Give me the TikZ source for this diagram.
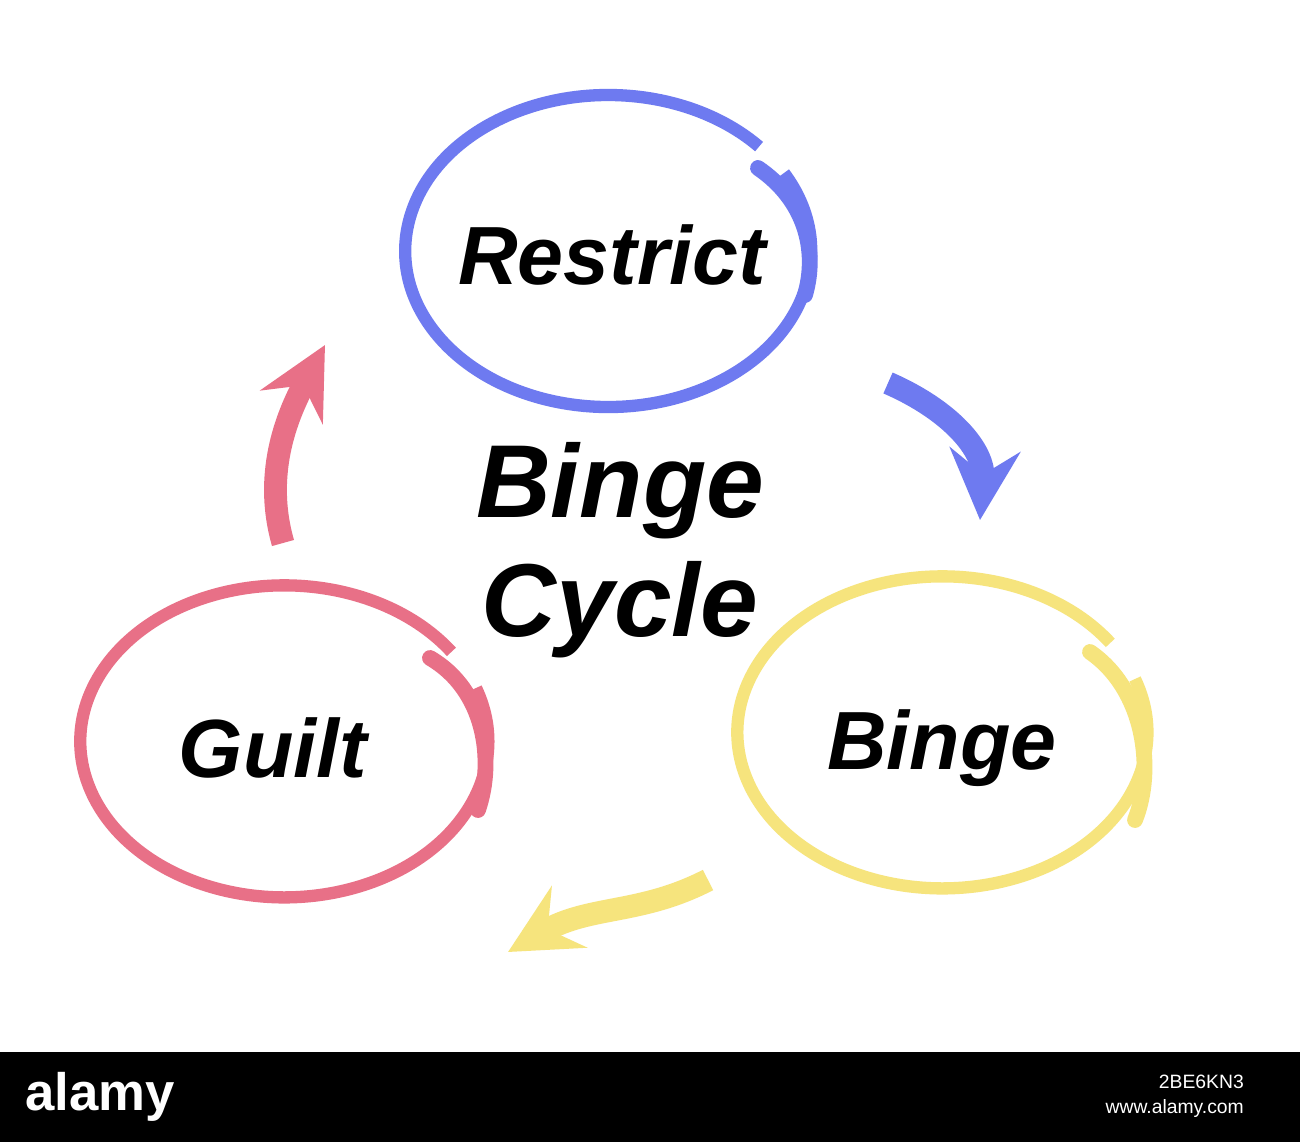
\documentclass[tikz,border=0pt]{standalone}
\usepackage{fontspec}
\setmainfont{Liberation Sans}
\usetikzlibrary{arrows.meta}
\definecolor{cblue}{RGB}{110,122,240}
\definecolor{cpink}{RGB}{232,112,135}
\definecolor{cyel}{RGB}{246,228,125}
\tikzset{lbl/.style={font=\fontsize{47}{50}\selectfont\bfseries\itshape},
ring/.style={line width=7pt},
tail/.style={line width=9pt,line cap=round},
arr/.style={line width=13pt,-{Stealth[length=40pt,width=40pt,inset=14pt]}}}
\begin{document}
\begin{tikzpicture}[x=0.02cm,y=-0.02cm]
\fill[white] (0,0) rectangle (1300,1142);
% rings
\draw[ring,cblue] (784,173) arc[start angle=-30,end angle=318,x radius=203,y radius=156];
\draw[tail,cblue] (758,168) .. controls (805,200) and (818,250) .. (805,295);
\node[lbl] (r) at (612,255) {Restrict};
\draw[ring,cpink] (476,688) arc[start angle=-20,end angle=325,x radius=204,y radius=156];
\draw[tail,cpink] (430,658) .. controls (485,690) and (495,760) .. (478,810);
\node[lbl] (g) at (273,748) {Guilt};
\draw[ring,cyel] (1135,679) arc[start angle=-20,end angle=325,x radius=205,y radius=156];
\draw[tail,cyel] (1090,652) .. controls (1145,690) and (1155,770) .. (1135,820);
\node[lbl] (b) at (942,748) {Binge};
\node[font=\fontsize{59}{68}\selectfont\bfseries\itshape,align=center] (c) at (620,550) {Binge\\Cycle};
% arrows
\draw[arr,cblue] (888,383) .. controls (950,410) and (985,450) .. (980,520);
\draw[arr,cyel] (708,880) .. controls (640,915) and (590,905) .. (508,952);
\draw[arr,cpink] (283,543) .. controls (262,470) and (290,410) .. (325,345);
% footer bar
\fill[black] (0,1052) rectangle (1300,1142);
\node[white,font=\fontsize{30}{32}\selectfont\bfseries] (al) at (100,1097) {alamy};
\node[white,font=\fontsize{11}{13}\selectfont,anchor=east] (id) at (1250,1082) {2BE6KN3};
\node[white,font=\fontsize{11}{13}\selectfont,anchor=east] (www) at (1250,1108) {www.alamy.com};
\end{tikzpicture}
\end{document}
